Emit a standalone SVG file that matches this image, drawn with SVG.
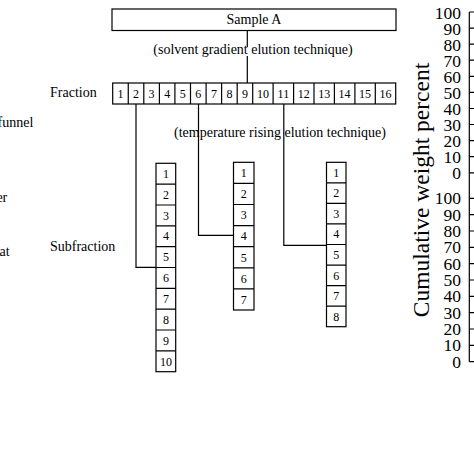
<svg xmlns="http://www.w3.org/2000/svg" width="474" height="474" viewBox="0 0 474 474">
<style>
  .box{fill:#fff;stroke:#000;stroke-width:1.2}
  .ln{fill:none;stroke:#000;stroke-width:1.2}
  .t{font-family:"Liberation Serif","Times New Roman",serif;font-size:14px;fill:#000}
  .n{font-family:"Liberation Serif","Times New Roman",serif;font-size:12px;fill:#000;text-anchor:middle}
  .ax{font-family:"Liberation Serif","Times New Roman",serif;font-size:17.5px;fill:#000;text-anchor:end}
</style>
<rect width="474" height="474" fill="#fff"/>

<!-- left cropped labels -->
<text class="t" x="-2.5" y="126.5">funnel</text>
<text class="t" x="-3.6" y="201.7">er</text>
<text class="t" x="-0.5" y="256">at</text>

<g id="connectors">
  <path class="ln" d="M247.3 30.7 V47 M247.3 56 V83"/>
  <path class="ln" d="M136 104 V267.3 H156"/>
  <path class="ln" d="M198.5 104 V235.3 H233.5"/>
  <path class="ln" d="M283.8 104 V245.3 H326.5"/>
</g>

<g id="sample-a">
  <rect class="box" x="112" y="9" width="284" height="21.5"/>
  <text class="t" x="254" y="24" text-anchor="middle">Sample A</text>
</g>

<text class="t" x="253" y="54" text-anchor="middle">(solvent gradient elution technique)</text>
<text class="t" x="280" y="136.5" text-anchor="middle">(temperature rising elution technique)</text>

<text class="t" x="50" y="97.3">Fraction</text>
<text class="t" x="50" y="250.7">Subfraction</text>

<g id="fraction-row">
  <rect class="box" x="112.7" y="83" width="283" height="21"/>
  <path class="ln" d="M128.26 83V104M143.8 83V104M159.4 83V104M174.9 83V104M190.5 83V104M206.1 83V104M221.6 83V104M237.2 83V104M252.7 83V104M273.1 83V104M293.6 83V104M314 83V104M334.4 83V104M354.9 83V104M375.3 83V104"/>
  <text class="n" x="120.5" y="97.8">1</text>
  <text class="n" x="136" y="97.8">2</text>
  <text class="n" x="151.6" y="97.8">3</text>
  <text class="n" x="167.2" y="97.8">4</text>
  <text class="n" x="182.7" y="97.8">5</text>
  <text class="n" x="198.3" y="97.8">6</text>
  <text class="n" x="213.9" y="97.8">7</text>
  <text class="n" x="229.4" y="97.8">8</text>
  <text class="n" x="245" y="97.8">9</text>
  <text class="n" x="262.9" y="97.8">10</text>
  <text class="n" x="283.4" y="97.8">11</text>
  <text class="n" x="303.8" y="97.8">12</text>
  <text class="n" x="324.2" y="97.8">13</text>
  <text class="n" x="344.6" y="97.8">14</text>
  <text class="n" x="365.1" y="97.8">15</text>
  <text class="n" x="385.5" y="97.8">16</text>
</g>

<g id="subfraction-col-1">
  <rect class="box" x="156" y="163.3" width="19.7" height="208.4"/>
  <path class="ln" d="M156 184.1H175.7M156 205H175.7M156 225.8H175.7M156 246.7H175.7M156 267.5H175.7M156 288.3H175.7M156 309.2H175.7M156 330H175.7M156 350.9H175.7"/>
  <text class="n" x="165.9" y="177.9">1</text>
  <text class="n" x="165.9" y="198.8">2</text>
  <text class="n" x="165.9" y="219.6">3</text>
  <text class="n" x="165.9" y="240.4">4</text>
  <text class="n" x="165.9" y="261.3">5</text>
  <text class="n" x="165.9" y="282.1">6</text>
  <text class="n" x="165.9" y="303">7</text>
  <text class="n" x="165.9" y="323.8">8</text>
  <text class="n" x="165.9" y="344.7">9</text>
  <text class="n" x="165.9" y="365.5">10</text>
</g>

<g id="subfraction-col-2">
  <rect class="box" x="233.5" y="162.3" width="20.5" height="147.7"/>
  <path class="ln" d="M233.5 183.4H254M233.5 204.5H254M233.5 225.6H254M233.5 246.7H254M233.5 267.8H254M233.5 288.9H254"/>
  <text class="n" x="243.8" y="177.1">1</text>
  <text class="n" x="243.8" y="198.2">2</text>
  <text class="n" x="243.8" y="219.3">3</text>
  <text class="n" x="243.8" y="240.4">4</text>
  <text class="n" x="243.8" y="261.5">5</text>
  <text class="n" x="243.8" y="282.6">6</text>
  <text class="n" x="243.8" y="303.7">7</text>
</g>

<g id="subfraction-col-3">
  <rect class="box" x="326.5" y="162.3" width="19.5" height="164.4"/>
  <path class="ln" d="M326.5 182.85H346M326.5 203.4H346M326.5 223.95H346M326.5 244.5H346M326.5 265.05H346M326.5 285.6H346M326.5 306.15H346"/>
  <text class="n" x="336.3" y="176.8">1</text>
  <text class="n" x="336.3" y="197.3">2</text>
  <text class="n" x="336.3" y="217.9">3</text>
  <text class="n" x="336.3" y="238.4">4</text>
  <text class="n" x="336.3" y="259">5</text>
  <text class="n" x="336.3" y="279.5">6</text>
  <text class="n" x="336.3" y="300.1">7</text>
  <text class="n" x="336.3" y="320.6">8</text>
</g>

<!-- right axis (cropped) -->
<g id="axis">
  <path class="ln" d="M469.3 12 V361.7 M469.3 12 H474 M469.3 361.7 H474"/>
  <path class="ln" d="M469.3 28.1H474M469.3 44.2H474M469.3 60.2H474M469.3 76.3H474M469.3 92.4H474M469.3 108.5H474M469.3 124.5H474M469.3 140.6H474M469.3 156.7H474M469.3 172.8H474"/>
  <path class="ln" d="M469.3 198.3H474M469.3 214.6H474M469.3 231H474M469.3 247.3H474M469.3 263.7H474M469.3 280H474M469.3 296.3H474M469.3 312.7H474M469.3 329H474M469.3 345.4H474"/>
  <text class="ax" x="461" y="18.5">100</text>
  <text class="ax" x="461" y="34.6">90</text>
  <text class="ax" x="461" y="50.7">80</text>
  <text class="ax" x="461" y="66.7">70</text>
  <text class="ax" x="461" y="82.8">60</text>
  <text class="ax" x="461" y="98.9">50</text>
  <text class="ax" x="461" y="115">40</text>
  <text class="ax" x="461" y="131">30</text>
  <text class="ax" x="461" y="147.1">20</text>
  <text class="ax" x="461" y="163.2">10</text>
  <text class="ax" x="461" y="179.3">0</text>
  <text class="ax" x="461" y="204.2">100</text>
  <text class="ax" x="461" y="220.5">90</text>
  <text class="ax" x="461" y="236.9">80</text>
  <text class="ax" x="461" y="253.2">70</text>
  <text class="ax" x="461" y="269.6">60</text>
  <text class="ax" x="461" y="285.9">50</text>
  <text class="ax" x="461" y="302.2">40</text>
  <text class="ax" x="461" y="318.6">30</text>
  <text class="ax" x="461" y="334.9">20</text>
  <text class="ax" x="461" y="351.3">10</text>
  <text class="ax" x="461" y="367.6">0</text>
  <text font-family="Liberation Serif, Times New Roman, serif" font-size="23.5" text-anchor="middle" transform="translate(428.5 190) rotate(-90)">Cumulative weight percent</text>
</g>
</svg>
